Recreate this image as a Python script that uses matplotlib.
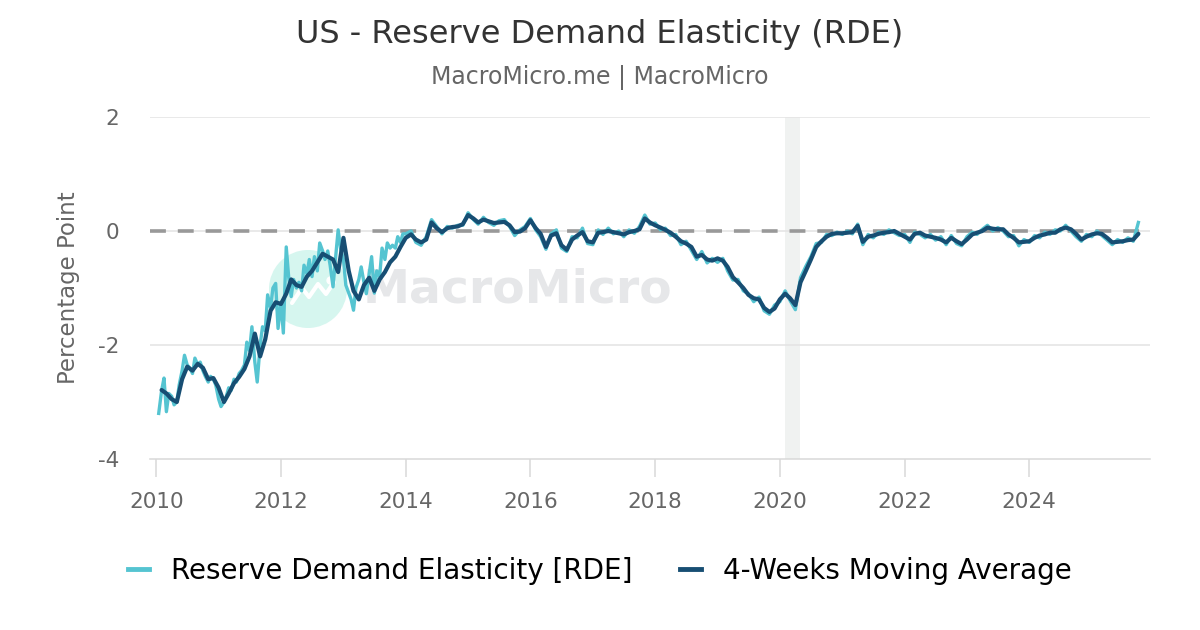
import matplotlib
matplotlib.use("Agg")
import matplotlib.pyplot as plt
import matplotlib.dates as mdates
from matplotlib.patches import Circle
from matplotlib.lines import Line2D
import pandas as pd
import numpy as np

# ---------------- data ----------------
title = "US - Reserve Demand Elasticity (RDE)"
subtitle = "MacroMicro.me | MacroMicro"
series_names = ["Reserve Demand Elasticity [RDE]", "4-Weeks Moving Average"]
y_label = "Percentage Point"
y_ticks = [-4, -2, 0, 2]

# RDE, semi-monthly 2010-01-15 .. 2013-12-15
rde_early = [
    -3.2,
    -2.8, -2.58, -3.17, -2.85, -2.9, -3.05, -3.0, -2.7, -2.45, -2.18, -2.35,
    -2.4, -2.5, -2.23, -2.35, -2.3, -2.45, -2.55, -2.65, -2.55, -2.6, -2.7,
    -2.95, -3.08, -3.0, -2.9, -2.75, -2.8, -2.6, -2.65, -2.5, -2.45, -2.35, -1.95,
    -2.1, -1.68, -2.3, -2.65, -2.0, -1.68, -1.75, -1.12, -1.35, -1.0, -0.92, -1.71,
    -1.25, -1.79, -0.28, -0.8, -1.15, -0.85, -1.0, -0.9, -1.05, -0.6, -0.75, -0.5,
    -0.8, -0.45, -0.7, -0.21, -0.35, -0.5, -0.35, -0.6, -0.98, -0.5, 0.02, -0.3,
    -0.5, -0.95, -1.09, -1.2, -1.39, -1.0, -0.85, -0.63, -0.9, -1.1, -0.75, -0.45,
    -1.09, -0.7, -0.8, -0.3, -0.5, -0.21, -0.3, -0.25, -0.3, -0.1, -0.2, -0.05,
]
# RDE, monthly 2014-01 .. 2025-10
rde_late = [
    -0.05, 0.0, -0.2, -0.25, -0.1, 0.2, 0.08, -0.05, 0.08, 0.05, 0.1, 0.1,
    0.32, 0.2, 0.12, 0.24, 0.15, 0.1, 0.18, 0.2, 0.08, -0.08, 0.02, 0.08,
    0.22, 0.02, -0.1, -0.32, -0.05, 0.02, -0.3, -0.36, -0.1, -0.12, 0.05, -0.22,
    -0.24, 0.02, -0.06, 0.05, -0.05, 0.0, -0.1, 0.02, -0.04, 0.08, 0.28, 0.12,
    0.14, 0.02, 0.05, -0.08, -0.06, -0.24, -0.18, -0.34, -0.5, -0.36, -0.56, -0.48,
    -0.55, -0.48, -0.7, -0.86, -0.85, -1.05, -1.1, -1.24, -1.16, -1.4, -1.46, -1.3,
    -1.24, -1.05, -1.22, -1.38, -0.82, -0.62, -0.45, -0.22, -0.2, -0.06, -0.08, -0.02,
    -0.06, 0.0, -0.05, 0.12, -0.24, -0.06, -0.12, -0.02, -0.06, 0.02, -0.03, -0.08,
    -0.06, -0.2, -0.02, -0.06, -0.12, -0.06, -0.16, -0.1, -0.24, -0.08, -0.22, -0.26,
    -0.1, -0.02, -0.06, 0.03, 0.1, 0.0, 0.06, 0.0, -0.1, -0.08, -0.26, -0.15,
    -0.2, -0.08, -0.12, -0.02, -0.06, 0.02, 0.0, 0.1, 0.0, -0.1, -0.18, -0.06,
    -0.1, 0.0, -0.08, -0.16, -0.24, -0.15, -0.2, -0.12, -0.18, 0.15,
]
# 4-week moving average, monthly 2010-02 .. 2025-10
ma_values = [
    -2.79, -2.85, -2.95, -3.0, -2.6, -2.38, -2.45, -2.33, -2.4, -2.6, -2.58,
    -2.75, -3.0, -2.85, -2.67, -2.56, -2.42, -2.2, -1.8, -2.2, -1.9, -1.4, -1.25,
    -1.28, -1.1, -0.85, -0.95, -0.98, -0.8, -0.7, -0.55, -0.4, -0.45, -0.5, -0.72,
    -0.12, -0.7, -1.05, -1.2, -0.95, -0.82, -1.05, -0.85, -0.72, -0.55, -0.45, -0.28,
    -0.12, -0.06, -0.15, -0.2, -0.15, 0.15, 0.05, -0.02, 0.05, 0.07, 0.08, 0.12,
    0.28, 0.22, 0.15, 0.2, 0.17, 0.14, 0.15, 0.16, 0.1, -0.02, -0.01, 0.05,
    0.19, 0.05, -0.05, -0.28, -0.08, -0.04, -0.25, -0.33, -0.15, -0.08, -0.02, -0.18,
    -0.2, -0.03, -0.02, 0.0, -0.02, -0.04, -0.06, -0.02, 0.0, 0.03, 0.22, 0.15,
    0.1, 0.06, 0.02, -0.03, -0.1, -0.18, -0.22, -0.28, -0.45, -0.42, -0.5, -0.52,
    -0.48, -0.52, -0.63, -0.81, -0.9, -1.0, -1.12, -1.18, -1.2, -1.35, -1.42, -1.36,
    -1.2, -1.1, -1.18, -1.3, -0.9, -0.7, -0.5, -0.28, -0.18, -0.1, -0.05, -0.04,
    -0.04, -0.03, -0.02, 0.09, -0.19, -0.1, -0.08, -0.05, -0.03, -0.02, 0.0, -0.05,
    -0.1, -0.15, -0.05, -0.03, -0.08, -0.1, -0.12, -0.15, -0.2, -0.12, -0.18, -0.23,
    -0.15, -0.06, -0.03, 0.0, 0.06, 0.04, 0.03, 0.03, -0.06, -0.12, -0.2, -0.19,
    -0.18, -0.12, -0.08, -0.06, -0.03, -0.03, 0.03, 0.06, 0.03, -0.05, -0.15, -0.1,
    -0.06, -0.04, -0.05, -0.12, -0.2, -0.19, -0.18, -0.16, -0.15, -0.05,
]
recession_start = "2020-02-01"
recession_end = "2020-04-30"

rde_dates = pd.date_range("2010-01-15", periods=len(rde_early), freq="SMS").append(
    pd.date_range("2014-01-01", periods=len(rde_late), freq="MS"))
rde_values = rde_early + rde_late
ma_dates = pd.date_range("2010-02-01", periods=len(ma_values), freq="MS")

# ---------------- style ----------------
plt.rcParams["font.family"] = ["DejaVu Sans"]
C_RDE = "#55c4d1"
C_MA = "#174e73"
W, H = 1200, 630

fig = plt.figure(figsize=(12, 6.3), dpi=100)
ax = fig.add_axes([150 / W, 1 - 459 / H, 1000 / W, (459 - 117) / H])

# watermark
wm_ax = fig.add_axes([0, 0, 1, 1], zorder=-1)
wm_ax.set_xlim(0, W)
wm_ax.set_ylim(H, 0)
wm_ax.axis("off")
wm_ax.add_patch(Circle((308, 289), 39, color="#d6f6ef", lw=0))
wm_ax.plot([292, 302, 309, 318, 326, 334], [303, 288, 297, 284, 294, 282],
           color="white", lw=3, solid_capstyle="round", solid_joinstyle="round")
wm_ax.plot([330], [280], marker="o", ms=5, color="white")
wm_ax.text(363, 290, "MacroMicro", fontsize=34, fontweight="bold",
           color="#e6e7e9", ha="left", va="center")
ax.patch.set_alpha(0)

# shaded recession band
ax.axvspan(pd.Timestamp(recession_start), pd.Timestamp(recession_end),
           color="#f0f2f1", lw=0, zorder=0)

# grid
for yv in y_ticks:
    if yv != -4:
        ax.axhline(yv, color="#e3e3e3", lw=1.1, zorder=0.5)
ax.axhline(0, color="#999999", lw=2.6, dashes=(4.4, 3.3), zorder=1)

ax.plot(rde_dates, rde_values, color=C_RDE, lw=2.4, zorder=2,
        solid_joinstyle="round")
ax.plot(ma_dates, ma_values, color=C_MA, lw=3.0, zorder=3,
        solid_joinstyle="round", solid_capstyle="round")

ax.set_ylim(-4, 2)
ax.set_yticks(y_ticks)
ax.set_yticklabels([str(v) for v in y_ticks])
ax.set_xlim(pd.Timestamp("2009-11-25"), pd.Timestamp("2025-12-08"))
ax.xaxis.set_major_locator(mdates.YearLocator(2))
ax.xaxis.set_major_formatter(mdates.DateFormatter("%Y"))

for s in ["top", "right", "left"]:
    ax.spines[s].set_visible(False)
ax.spines["bottom"].set_color("#d8d8d8")
ax.spines["bottom"].set_linewidth(1.1)
ax.tick_params(axis="x", length=13, width=1.1, color="#d8d8d8",
               labelsize=15.5, labelcolor="#666666", pad=11)
ax.tick_params(axis="y", length=0, labelsize=15.5, labelcolor="#666666", pad=22)

ax.set_ylabel(y_label, fontsize=16.5, color="#666666")
ax.yaxis.set_label_coords(-0.07, 0.5)

fig.text(0.5, 1 - 34 / H, title, ha="center", va="center", fontsize=23,
         color="#333333")
fig.text(0.5, 1 - 78 / H, subtitle, ha="center", va="center", fontsize=17,
         color="#666666")

handles = [Line2D([], [], color=C_RDE, lw=3.5), Line2D([], [], color=C_MA, lw=3.5)]
fig.legend(handles, series_names, loc="center", bbox_to_anchor=(0.5, 1 - 571 / H),
           ncol=2, frameon=False, fontsize=20, handlelength=0.75,
           handletextpad=0.8, columnspacing=1.7)

fig.savefig("out.png", dpi=100)
